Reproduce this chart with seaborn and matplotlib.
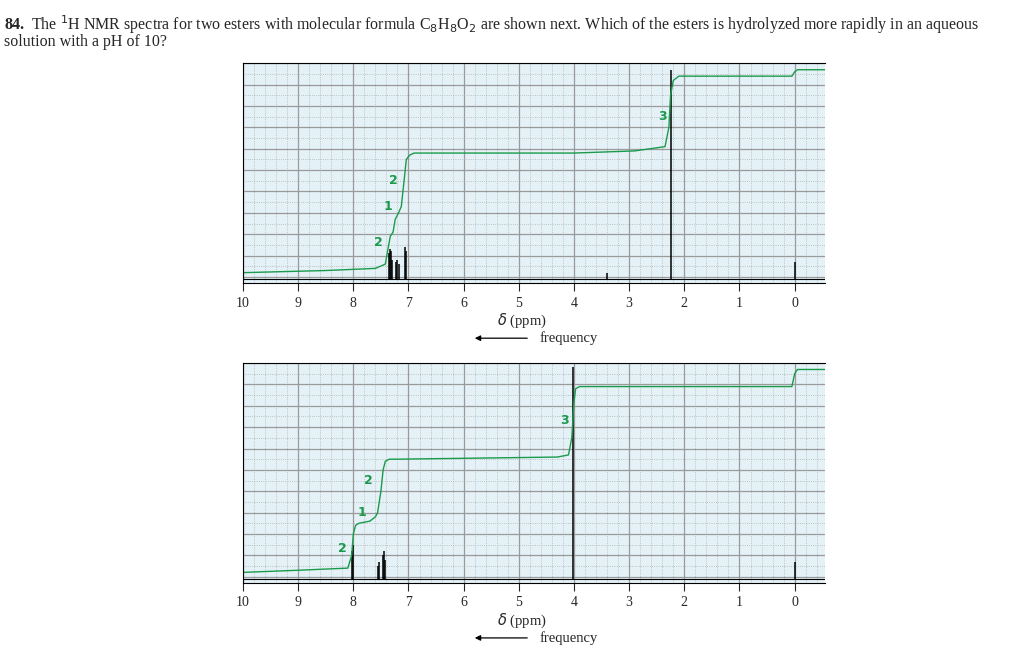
import numpy as np
import matplotlib
matplotlib.use('Agg')
import matplotlib.pyplot as plt
import seaborn as sns
from matplotlib.ticker import MultipleLocator

sns.set_style('white')
plt.rcParams['font.family'] = ['Liberation Serif', 'DejaVu Serif']

# Spectrum 1 (top): peak positions (ppm) and heights
peaks1_ppm = [7.36, 7.34, 7.32, 7.30, 7.22, 7.20, 7.18, 7.07, 7.05, 2.25, 3.40, 0.0]
peaks1_h = [0.11, 0.13, 0.12, 0.08, 0.07, 0.08, 0.06, 0.14, 0.12, 0.97, 0.02, 0.07]
# Integral 1 breakpoints
integ1_ppm = [10.0, 8.5, 7.6, 7.42, 7.38, 7.33, 7.28, 7.24, 7.18, 7.13, 7.08, 7.04, 6.98, 6.9, 4.0, 2.9, 2.35, 2.28, 2.25, 2.2, 2.1, 1.9, 0.05, 0.0, -0.05, -0.55]
integ1_val = [0.02, 0.03, 0.04, 0.06, 0.12, 0.19, 0.21, 0.27, 0.30, 0.33, 0.45, 0.55, 0.57, 0.58, 0.58, 0.59, 0.61, 0.70, 0.85, 0.92, 0.94, 0.94, 0.94, 0.96, 0.97, 0.97]
labels1 = [(7.46, 0.16, '2'), (7.3, 0.33, '1'), (7.2, 0.45, '2'), (2.32, 0.75, '3')]

# Spectrum 2 (bottom)
peaks2_ppm = [8.02, 8.00, 7.56, 7.53, 7.47, 7.45, 7.43, 4.02, 0.0]
peaks2_h = [0.12, 0.15, 0.05, 0.07, 0.10, 0.12, 0.08, 0.98, 0.07]
integ2_ppm = [10.0, 9.0, 8.1, 8.03, 8.0, 7.96, 7.9, 7.7, 7.6, 7.56, 7.5, 7.46, 7.42, 7.35, 7.2, 4.3, 4.1, 4.04, 4.0, 3.97, 3.9, 3.6, 0.05, 0.0, -0.05, -0.55]
integ2_val = [0.02, 0.03, 0.04, 0.10, 0.20, 0.24, 0.25, 0.26, 0.28, 0.30, 0.40, 0.50, 0.54, 0.55, 0.55, 0.56, 0.57, 0.65, 0.82, 0.88, 0.89, 0.89, 0.89, 0.95, 0.97, 0.97]
labels2 = [(8.12, 0.13, '2'), (7.76, 0.30, '1'), (7.64, 0.45, '2'), (4.1, 0.73, '3')]

xticks = list(range(10, -1, -1))
green = '#1a9a4a'

fig = plt.figure(figsize=(10.24, 6.53), dpi=100)
fig.text(0.004, 0.962, '84.', fontsize=11.5, fontweight='bold', va='center')
fig.text(0.03, 0.962, r'The $^{1}$H NMR spectra for two esters with molecular formula C$_8$H$_8$O$_2$ are shown next. Which of the esters is hydrolyzed more rapidly in an aqueous',
         fontsize=11.5, va='center')
fig.text(0.004, 0.935, 'solution with a pH of 10?', fontsize=11.5, va='center')


def draw(ax, pk_ppm, pk_h, in_ppm, in_val, labels):
    ax.set_facecolor('#e4f2f8')
    ax.set_xlim(10, -0.55)
    ax.set_ylim(-0.03, 1.0)
    ax.xaxis.set_major_locator(MultipleLocator(1))
    ax.xaxis.set_minor_locator(MultipleLocator(0.2))
    ax.yaxis.set_major_locator(MultipleLocator(0.1))
    ax.yaxis.set_minor_locator(MultipleLocator(0.05))
    ax.grid(which='major', color='#9a9a9a', lw=0.9)
    ax.grid(which='minor', color='#b0b0b0', lw=0.6, ls=':')
    ax.set_axisbelow(True)
    ax.axhline(-0.01, color='black', lw=0.8)
    ax.vlines(pk_ppm, -0.01, pk_h, color='black', lw=1.1)
    sns.lineplot(x=in_ppm, y=in_val, ax=ax, color=green, lw=1.0, sort=False, estimator=None)
    for x, y, t in labels:
        ax.text(x, y, t, color=green, fontsize=9, fontweight='bold', family='DejaVu Sans', ha='right', va='center')
    ax.set_yticks(np.arange(0, 1.01, 0.1))
    ax.tick_params(axis='y', left=False, labelleft=False, which='both')
    ax.set_xticks(xticks)
    ax.set_xticklabels([str(t) for t in xticks], fontsize=10)
    ax.tick_params(axis='x', which='major', direction='out', length=6, width=0.8, bottom=True)
    ax.tick_params(axis='x', which='minor', bottom=False)
    ax.spines['right'].set_visible(False)
    for s in ['top', 'left', 'bottom']:
        ax.spines[s].set_color('black')
        ax.spines[s].set_linewidth(0.8)


for top, args in [(0.903, (peaks1_ppm, peaks1_h, integ1_ppm, integ1_val, labels1)),
                  (0.444, (peaks2_ppm, peaks2_h, integ2_ppm, integ2_val, labels2))]:
    ax = fig.add_axes([243 / 1024, top - 220 / 653, 582 / 1024, 220 / 653])
    draw(ax, *args)
    base = top - 220 / 653
    fig.text(522 / 1024, base - 0.058, r'$\delta$ (ppm)', fontsize=10.5, ha='center', va='center')
    fig.text(540 / 1024, base - 0.084, 'frequency', fontsize=10.5, ha='left', va='center')
    fig.add_artist(matplotlib.patches.FancyArrowPatch((530 / 1024, base - 0.084), (472 / 1024, base - 0.084),
                                                      transform=fig.transFigure, arrowstyle='-|>', mutation_scale=8,
                                                      color='black', lw=0.9))

fig.savefig('out.png', dpi=100)
